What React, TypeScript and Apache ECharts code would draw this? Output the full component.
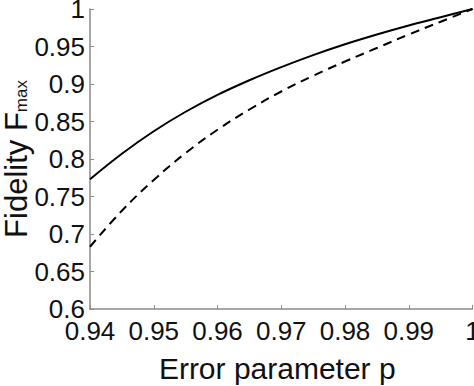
import React, { useEffect, useRef } from "react";
import * as echarts from "echarts";

const pValues = [0.94, 0.945, 0.95, 0.955, 0.96, 0.965, 0.97, 0.975, 0.98, 0.985, 0.99, 0.995, 1.0];
const fidelitySolid = [0.773, 0.807, 0.837, 0.863, 0.8855, 0.905, 0.9225, 0.9385, 0.953, 0.966, 0.978, 0.989, 1.0];
const fidelityDashed = [0.683, 0.731, 0.772, 0.808, 0.839, 0.866, 0.89, 0.911, 0.93, 0.948, 0.966, 0.983, 1.0];
const xTicks = { min: 0.94, max: 1, interval: 0.01 };
const yTicks = { min: 0.6, max: 1, interval: 0.05 };

const FONT = "'Liberation Sans', Arial, sans-serif";

const fmt = (v: number) => (Math.abs(v - 1) < 1e-9 ? "1" : String(Math.round(v * 100) / 100));

export default function App() {
  const ref = useRef<HTMLDivElement>(null);
  useEffect(() => {
    if (!ref.current) return;
    const chart = echarts.init(ref.current, undefined, { renderer: "svg" });
    const axisLine = { show: true, lineStyle: { color: "#8a8a8a", width: 1.5 } };
    chart.setOption({
      animation: false,
      backgroundColor: "#ffffff",
      grid: { left: 90, right: 1.5, top: 9, bottom: 77, containLabel: false, outerBoundsMode: "none" },
      xAxis: {
        type: "value",
        min: xTicks.min,
        max: xTicks.max,
        interval: xTicks.interval,
        axisLine,
        axisTick: { show: true, inside: true, length: 4, lineStyle: { color: "#8a8a8a" } },
        splitLine: { show: false },
        axisLabel: {
          color: "#111",
          fontFamily: FONT,
          fontSize: 26,
          lineHeight: 16,
          margin: 14,
          formatter: fmt,
        },
        name: "Error parameter p",
        nameLocation: "middle",
        nameGap: 44,
        nameMoveOverlap: false,
        nameTextStyle: { color: "#111", fontFamily: FONT, fontSize: 30, padding: [0, 8, 0, 0] },
      },
      yAxis: {
        type: "value",
        min: yTicks.min,
        max: yTicks.max,
        interval: yTicks.interval,
        axisLine,
        axisTick: { show: true, inside: true, length: 4, lineStyle: { color: "#8a8a8a" } },
        splitLine: { show: false },
        axisLabel: {
          color: "#111",
          fontFamily: FONT,
          fontSize: 26,
          lineHeight: 16,
          margin: 5,
          formatter: fmt,
        },
        name: "{a|Fidelity F}{b|max}",
        nameLocation: "middle",
        nameGap: 59,
        nameMoveOverlap: false,
        nameTextStyle: {
          color: "#111",
          fontFamily: FONT,
          rich: {
            a: { fontFamily: FONT, fontSize: 31, lineHeight: 30, color: "#111" },
            b: { fontFamily: FONT, fontSize: 17, lineHeight: 30, color: "#111", padding: [10, 0, 0, 0] },
          },
        },
      },
      series: [
        {
          type: "line",
          data: pValues.map((p, i) => [p, fidelitySolid[i]]),
          smooth: 0.4,
          showSymbol: false,
          lineStyle: { color: "#000", width: 2, type: "solid" },
        },
        {
          type: "line",
          data: pValues.map((p, i) => [p, fidelityDashed[i]]),
          smooth: 0.4,
          showSymbol: false,
          lineStyle: { color: "#000", width: 2, type: [9, 6] },
        },
      ],
    });
    return () => chart.dispose();
  }, []);
  return <div ref={ref} style={{ width: 474, height: 386, position: "fixed", left: 0, top: 0 }} />;
}
